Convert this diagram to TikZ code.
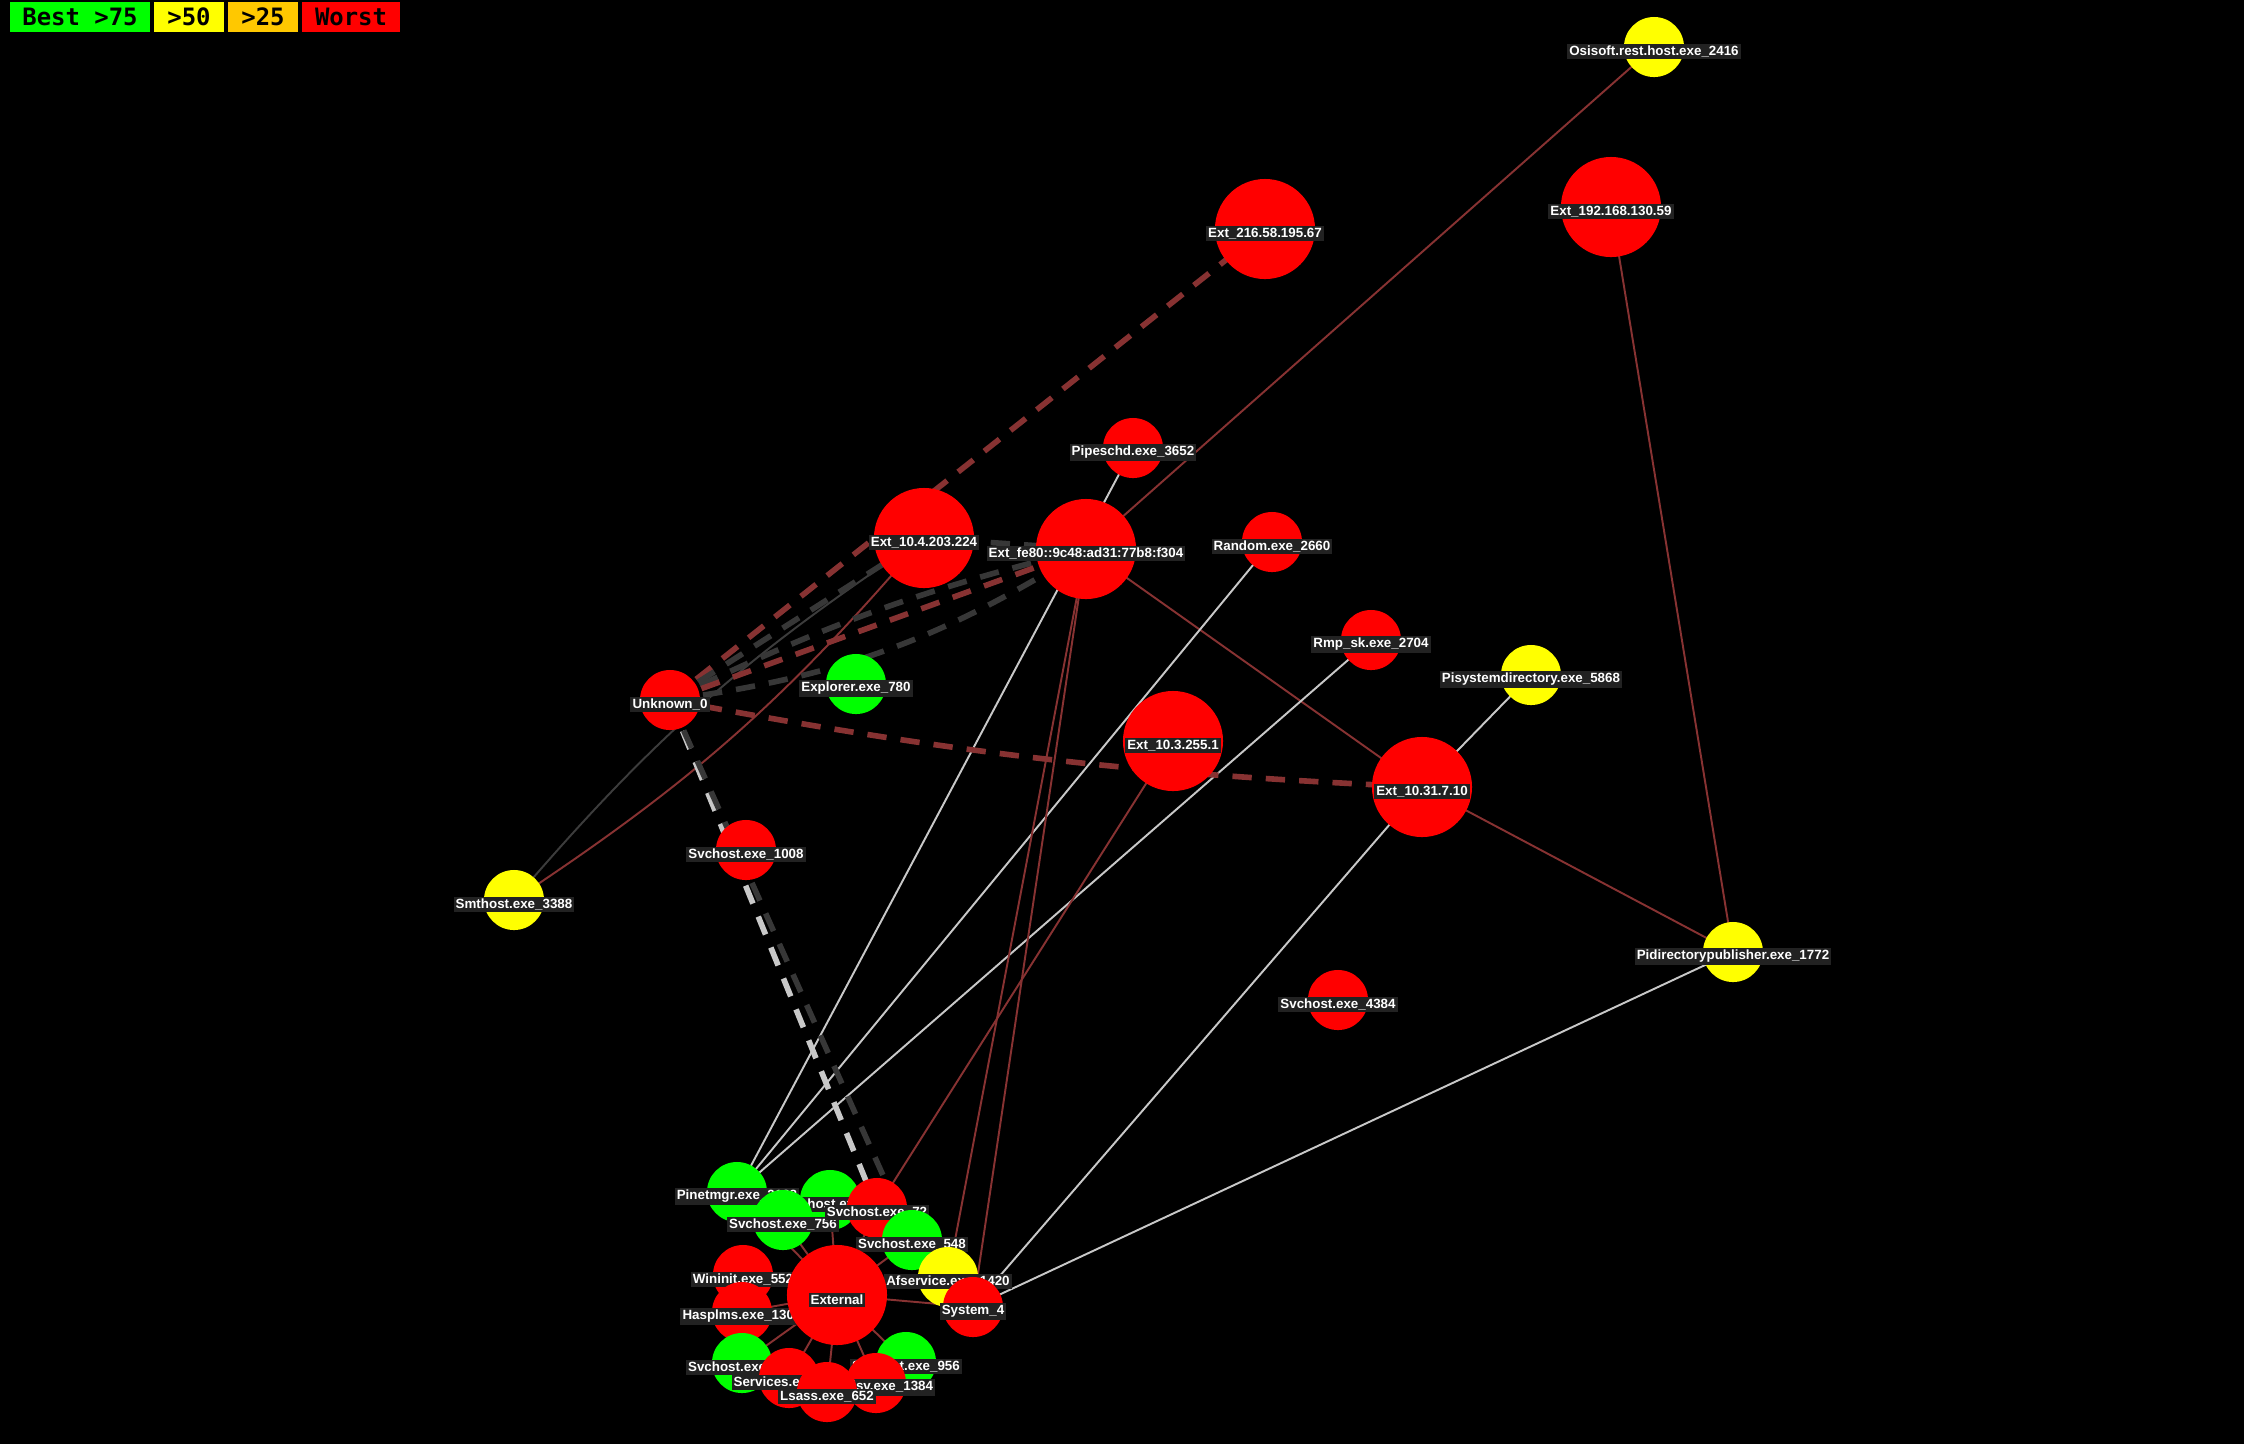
\documentclass[tikz,border=0pt]{standalone}
\usepackage{fontspec}
\setmainfont{Liberation Sans}
\newfontfamily\legfont{DejaVu Sans Mono}
\begin{document}
\begin{tikzpicture}[x=0.01cm,y=-0.01cm,
  lab/.style={fill=labbg,text=white,inner sep=0.6pt,font=\fontsize{3.8}{4.4}\selectfont\bfseries},
  thinred/.style={draw=edgered,line width=0.55pt},
  thinwhite/.style={draw=edgewhite,line width=0.55pt},
  thingray/.style={draw=edgegray,line width=0.55pt},
  dred/.style={draw=edgered,line width=1.6pt,dash pattern=on 5.5pt off 4pt},
  dgray/.style={draw=dgraycol,line width=1.6pt,dash pattern=on 5.5pt off 4pt},
  dwhite/.style={draw=edgewhite,line width=1.6pt,dash pattern=on 5.5pt off 4pt},
  leg/.style={text=black,inner sep=0pt,font=\legfont\fontsize{6.8}{7}\selectfont\bfseries,anchor=center}]
\definecolor{labbg}{RGB}{34,34,34}
\definecolor{edgered}{RGB}{135,50,50}
\definecolor{edgewhite}{RGB}{200,200,200}
\definecolor{edgegray}{RGB}{60,60,60}
\definecolor{dgraycol}{RGB}{55,55,55}
\definecolor{gr}{RGB}{0,255,0}
\definecolor{ye}{RGB}{255,255,0}
\definecolor{ora}{RGB}{255,200,0}
\definecolor{re}{RGB}{255,0,0}
\fill[black] (0,0) rectangle (2244,1444);
\useasboundingbox (0,0) rectangle (2244,1444);
% legend
\fill[gr] (10,2) rectangle (150,32); \node[leg] (l1) at (80,17) {Best >75};
\fill[ye] (154,2) rectangle (224,32); \node[leg] (l2) at (189,17) {>50};
\fill[ora] (228,2) rectangle (298,32); \node[leg] (l3) at (263,17) {>25};
\fill[re] (302,2) rectangle (400,32); \node[leg] (l4) at (351,17) {Worst};
% coordinates
\coordinate (osi) at (1654,47);
\coordinate (e216) at (1265,229);
\coordinate (e192) at (1611,207);
\coordinate (pip) at (1133,448);
\coordinate (e104) at (924,538);
\coordinate (efe) at (1086,549);
\coordinate (rnd) at (1272,542);
\coordinate (rmp) at (1371,640);
\coordinate (pis) at (1531,675);
\coordinate (unk) at (670,700);
\coordinate (exp) at (856,684);
\coordinate (e103) at (1173,741);
\coordinate (e1031) at (1422,787);
\coordinate (s1008) at (746,850);
\coordinate (smt) at (514,900);
\coordinate (pid) at (1733,952);
\coordinate (s4384) at (1338,1000);
\coordinate (pin) at (737,1192);
\coordinate (sx) at (830,1200);
\coordinate (s756) at (783,1220);
\coordinate (s72) at (877,1208);
\coordinate (s548) at (912,1240);
\coordinate (win) at (743,1275);
\coordinate (afs) at (948,1277);
\coordinate (ext) at (837,1295);
\coordinate (has) at (742,1312);
\coordinate (sys) at (973,1307);
\coordinate (sy) at (742,1363);
\coordinate (s956) at (906,1362);
\coordinate (ser) at (789,1378);
\coordinate (lsa) at (827,1392);
\coordinate (spo) at (876,1383);
% edges
\draw[thinred] (osi) -- (efe);
\draw[thinred] (e192) -- (pid);
\draw[thinred] (efe) -- (e1031);
\draw[thinred] (e1031) -- (pid);
\draw[thinwhite] (e1031) -- (pis);
\draw[thinwhite] (e1031) -- (sys);
\draw[thinwhite] (pid) -- (sys);
\draw[thinwhite] (pip) -- (pin);
\draw[thinwhite] (rnd) -- (pin);
\draw[thinwhite] (rmp) -- (pin);
\draw[thinred] (e103) -- (s72);
\draw[thinred] (efe) -- (sys);
\draw[thinred] (efe) -- (afs);
\draw[thingray] (smt) to[bend left=8] (e104);
\draw[thinred] (smt) to[bend right=8] (e104);
\draw[dred] (unk) -- (e216);
\draw[dgray] (unk) -- (e104);
\draw[dgray] (e104) -- (efe);
\draw[dgray] (unk) to[bend left=6] (efe);
\draw[dred] (unk) -- (efe);
\draw[dgray] (unk) to[bend right=12] (efe);
\draw[dred] (unk) to[bend right=4] (e1031);
\draw[dwhite] (unk) -- (s72);
\draw[dgray] (unk) -- (s548);
\foreach \a in {pin,sx,s756,s72,s548,win,afs,has,sys,sy,s956,ser,lsa,spo}
  \draw[thinred] (ext) -- (\a);
% nodes
\def\ndd#1#2#3#4{\node[circle,fill=#4,minimum size=#3*0.02cm,inner sep=0pt] (n#1) at (#1) {};\node[lab,yshift=-0.045cm] (t#1) at (#1) {#2};}
\ndd{osi}{Osisoft.rest.host.exe\_2416}{30}{ye}
\ndd{e216}{Ext\_216.58.195.67}{50}{re}
\ndd{e192}{Ext\_192.168.130.59}{50}{re}
\ndd{pip}{Pipeschd.exe\_3652}{30}{re}
\ndd{e104}{Ext\_10.4.203.224}{50}{re}
\ndd{efe}{Ext\_fe80::9c48:ad31:77b8:f304}{50}{re}
\ndd{rnd}{Random.exe\_2660}{30}{re}
\ndd{rmp}{Rmp\_sk.exe\_2704}{30}{re}
\ndd{pis}{Pisystemdirectory.exe\_5868}{30}{ye}
\ndd{unk}{Unknown\_0}{30}{re}
\ndd{exp}{Explorer.exe\_780}{30}{gr}
\ndd{e103}{Ext\_10.3.255.1}{50}{re}
\ndd{e1031}{Ext\_10.31.7.10}{50}{re}
\ndd{s1008}{Svchost.exe\_1008}{30}{re}
\ndd{smt}{Smthost.exe\_3388}{30}{ye}
\ndd{pid}{Pidirectorypublisher.exe\_1772}{30}{ye}
\ndd{s4384}{Svchost.exe\_4384}{30}{re}
\ndd{pin}{Pinetmgr.exe\_2128}{30}{gr}
\ndd{sx}{Svchost.exe\_1}{30}{gr}
\ndd{s756}{Svchost.exe\_756}{30}{gr}
\ndd{s72}{Svchost.exe\_72}{30}{re}
\ndd{s548}{Svchost.exe\_548}{30}{gr}
\ndd{win}{Wininit.exe\_552}{30}{re}
\ndd{has}{Hasplms.exe\_1304}{30}{re}
\ndd{afs}{Afservice.exe\_1420}{30}{ye}
\ndd{ext}{External}{50}{re}
\ndd{sys}{System\_4}{30}{re}
\ndd{sy}{Svchost.exe\_880}{30}{gr}
\ndd{s956}{Svchost.exe\_956}{30}{gr}
\ndd{spo}{Spoolsv.exe\_1384}{30}{re}
\ndd{ser}{Services.exe\_640}{30}{re}
\ndd{lsa}{Lsass.exe\_652}{30}{re}
\end{tikzpicture}
\end{document}
